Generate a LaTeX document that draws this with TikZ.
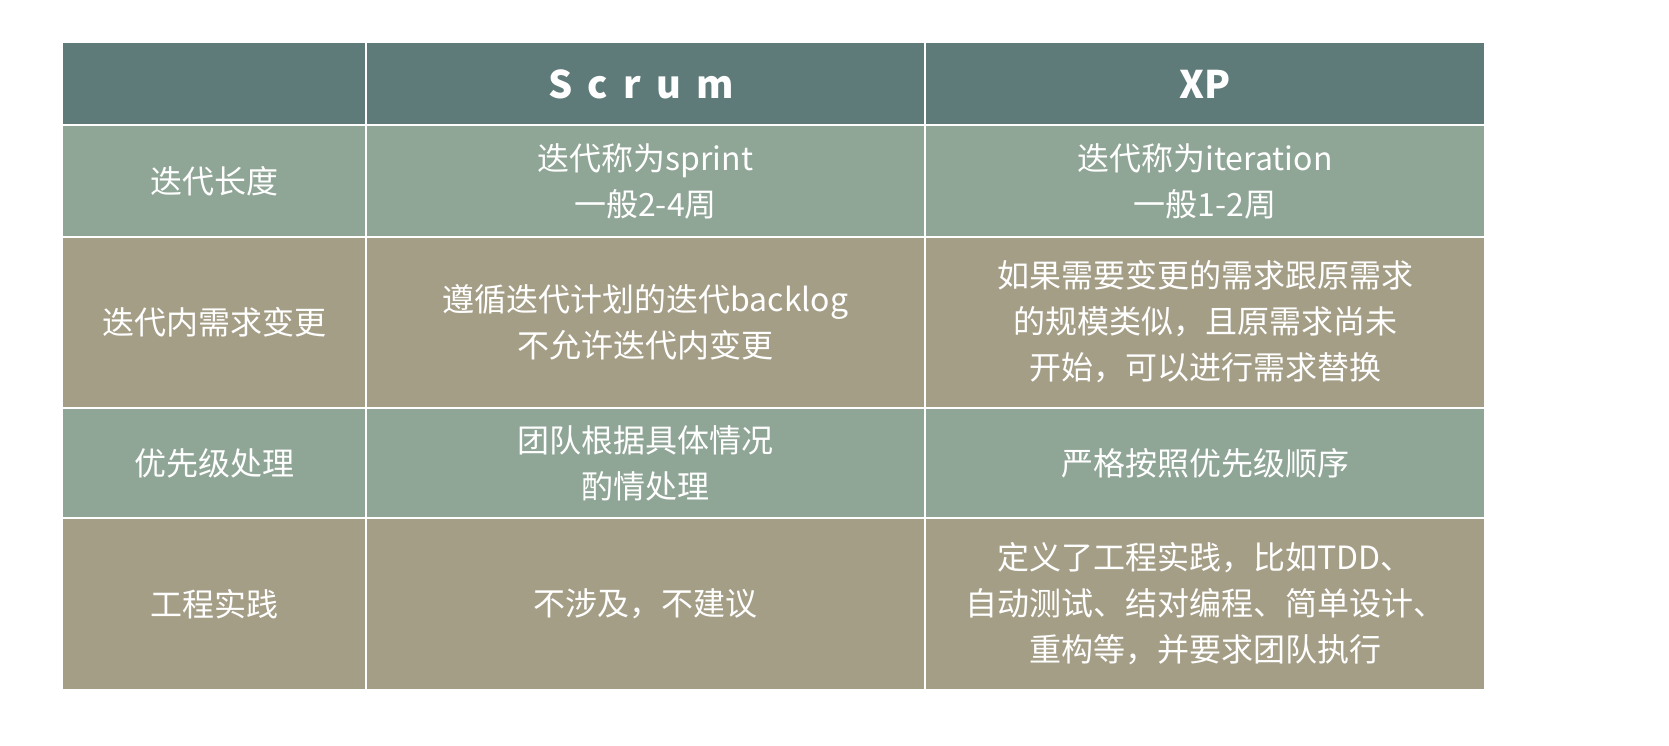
\documentclass[tikz,border=0pt]{standalone}
\usepackage{fontspec}
\setmainfont{Noto Sans CJK SC}
\begin{document}
\begin{tikzpicture}[x=1pt,y=-1pt,
  cell/.style={draw=white,line width=2pt},
  txt/.style={text=white,font=\fontsize{32}{46}\selectfont,align=center},
  hdr/.style={text=white,font=\fontsize{38}{46}\selectfont\bfseries,align=center}]
\definecolor{hd}{HTML}{5E7B7A}
\definecolor{gr}{HTML}{8FA596}
\definecolor{tn}{HTML}{A59E87}
\useasboundingbox (0,0) rectangle (1669,746);
\def\xa{62}\def\xb{366}\def\xc{925}\def\xd{1485}
\foreach \ya/\yb/\c in {42/125/hd,125/237/gr,237/408/tn,408/518/gr,518/690/tn}{
  \fill[\c] (\xa,\ya) rectangle (\xd,\yb);
}
\foreach \ya/\yb in {42/125,125/237,237/408,408/518,518/690}{
  \draw[cell] (\xa,\ya) rectangle (\xb,\yb);
  \draw[cell] (\xb,\ya) rectangle (\xc,\yb);
  \draw[cell] (\xc,\ya) rectangle (\xd,\yb);
}
\node[hdr] (h2) at (641,84) {\addfontfeature{LetterSpace=40}Scrum};
\node[hdr] (h3) at (1205,84) {XP};
\node[txt] (r1a) at (214,181) {迭代长度};
\node[txt] (r1b) at (645.5,181) {迭代称为sprint\\一般2-4周};
\node[txt] (r1c) at (1205,181) {迭代称为iteration\\一般1-2周};
\node[txt] (r2a) at (214,322) {迭代内需求变更};
\node[txt] (r2b) at (645.5,322) {遵循迭代计划的迭代backlog\\不允许迭代内变更};
\node[txt] (r2c) at (1205,322) {如果需要变更的需求跟原需求\\的规模类似，且原需求尚未\\开始，可以进行需求替换};
\node[txt] (r3a) at (214,463) {优先级处理};
\node[txt] (r3b) at (645.5,463) {团队根据具体情况\\酌情处理};
\node[txt] (r3c) at (1205,463) {严格按照优先级顺序};
\node[txt] (r4a) at (214,604) {工程实践};
\node[txt] (r4b) at (645.5,604) {不涉及，不建议};
\node[txt] (r4c) at (1205,604) {定义了工程实践，比如TDD、\\自动测试、结对编程、简单设计、\\重构等，并要求团队执行};
\end{tikzpicture}
\end{document}
